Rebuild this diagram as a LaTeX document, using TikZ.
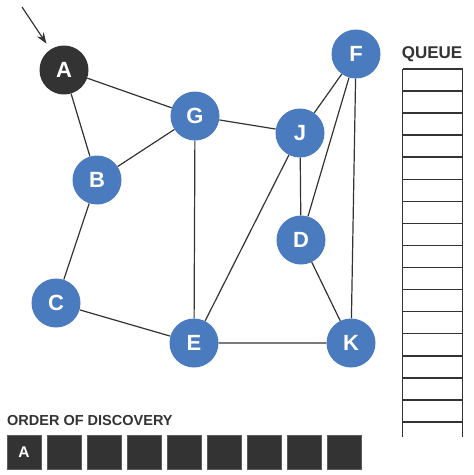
\documentclass[tikz,border=0pt]{standalone}
\usepackage{fontspec}
\setmainfont{Liberation Sans}
\usetikzlibrary{positioning,arrows.meta}
\definecolor{vblue}{HTML}{4A7BBF}
\definecolor{vdark}{HTML}{333333}
\tikzset{
  vertex/.style={circle,fill=vblue,text=white,minimum size=49pt,inner sep=0pt,font=\fontsize{22}{22}\selectfont\bfseries},
  seen/.style={vertex,fill=vdark},
  edge/.style={vdark,line width=1.2pt},
  slot/.style={fill=vdark,draw=vdark!80,minimum size=34pt,inner sep=0pt,text=white,font=\fontsize{15.5}{16}\selectfont\bfseries},
  caption/.style={text=vdark,inner sep=0pt,font=\fontsize{14.5}{15}\selectfont\bfseries}
}
\begin{document}
\begin{tikzpicture}[x=1pt,y=-1pt]
  \useasboundingbox (0,0) rectangle (474,475);
  % graph
  \node[seen] (A) at (64,70) {A};
  \node[vertex] (G) at (195,116) {G};
  \node[vertex] (F) at (356,54) {F};
  \node[vertex] (J) at (300,133) {J};
  \node[vertex] (B) at (97,180) {B};
  \node[vertex] (D) at (301,240) {D};
  \node[vertex] (C) at (56,303) {C};
  \node[vertex] (E) at (194,343) {E};
  \node[vertex] (K) at (351,343) {K};
  \draw[edge] (A)--(G) (A)--(B) (B)--(G) (B)--(C) (C)--(E) (G)--(E) (G)--(J);
  \draw[edge] (J)--(F) (J)--(E) (J)--(D) (F)--(D) (F)--(K) (D)--(K) (E)--(K);
  \coordinate (start) at (22,7);
  \draw[edge,-{Stealth[length=11pt,width=8pt]},shorten >=7pt] (start)--(A);
  % queue
  \node[caption,anchor=base,font=\fontsize{17}{17}\selectfont\bfseries] (qlabel) at (432,58) {QUEUE};
  \draw[vdark,line width=1.5pt] (402.5,69)--(402.5,437) (462.5,69)--(462.5,437);
  \foreach \k in {0,...,16}
    \draw[vdark,line width=1.5pt] (402.5,69+22.06*\k)--(462.5,69+22.06*\k);
  % order of discovery
  \node[caption,anchor=base west] (olabel) at (7,425) {ORDER OF DISCOVERY};
  \node[slot] (o1) at (24,452) {A};
  \foreach \k in {2,...,9}
    \node[slot] (o\k) at (24+40*\k-40,452) {};
\end{tikzpicture}
\end{document}
